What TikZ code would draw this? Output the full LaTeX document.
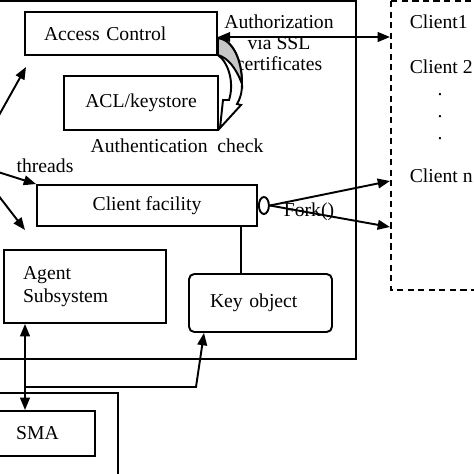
\documentclass[tikz,border=0pt]{standalone}
\usepackage{fontspec}
\setmainfont{Liberation Serif}
\usetikzlibrary{arrows.meta,shapes.geometric}

\begin{document}
\begin{tikzpicture}[
    x=0.02cm, y=-0.02cm,
    line width=1.1pt,
    font=\fontsize{11.2}{12}\selectfont,
    >={Triangle[length=7pt,width=5.5pt]},
    box/.style={draw, rectangle, inner sep=0pt, align=center},
  ]
  \useasboundingbox (0,0) rectangle (474,474);

  \draw (-10,1) rectangle (356,359);
  \draw (-10,393) rectangle (118,490);
  \draw [dash pattern=on 3.5pt off 2.5pt] (391,1) rectangle (490,290);

  \node [box, minimum width=3.84cm, minimum height=0.86cm,
    text width=3.08cm, align=left] (access control) at (121,33.5) {Access Control};
  \node [box, minimum width=3.08cm, minimum height=1.08cm]
    (acl) at (141,103) {ACL/keystore};
  \node [box, minimum width=4.4cm, minimum height=0.82cm]
    (client facility) at (147,205.5) {Client facility};
  \node [box, minimum width=3.24cm, minimum height=1.46cm,
    text width=2.48cm, align=left] (agent) at (85,286.5) {Agent\\[1pt]Subsystem};
  \node [box, rounded corners=3pt, minimum width=2.86cm, minimum height=1.16cm,
    text width=2.02cm, align=left] (key object) at (260.5,303) {Key object};
  \node [box, minimum width=2.3cm, minimum height=0.9cm]
    (sma) at (37.5,433.5) {SMA};
  \node [draw, ellipse, inner sep=0pt, minimum width=0.2cm, minimum height=0.34cm,
    anchor=west] (fork) at (client facility.east) {};

  \node (auth label) [align=center] at (279,43) {Authorization\\via SSL\\certificates};
  \node (check label) at (177,146) {Authentication\ \ check};
  \node (threads label) at (45,166) {threads};
  \node (fork label) at (309,212) {Fork()};

  \node (client 1) [anchor=west] at (403,22) {Client1};
  \node (client 2) [anchor=west] at (403,67) {Client 2};
  \node (dot 1) [anchor=base] at (440,95) {.};
  \node (dot 2) [anchor=base] at (440,117) {.};
  \node (dot 3) [anchor=base] at (440,139) {.};
  \node (client n) [anchor=west] at (403,176) {Client n};

  \coordinate (client in) at (390,37);
  \coordinate (fork top) at (390,181);
  \coordinate (fork bottom) at (390,227);
  \coordinate (link) at (241,0);
  \coordinate (bus left) at (25,387);
  \coordinate (bus right) at (196,387);
  \coordinate (key foot) at (204,0);
  \coordinate (in upper) at (-2,117);
  \coordinate (in upper tip) at (26,67);
  \coordinate (in middle) at (-2,172);
  \coordinate (in lower) at (-2,195);
  \coordinate (in lower tip) at (25,230);

  \draw [<->]
    (access control.east |- client in)
    -- (client in)
  ;

  \draw [fill=white]
    (218,38)
    .. controls (233,40) and (242,60) .. (242,84)
    .. controls (242,93) and (240,99) .. (237,104)
    -- (241,105)
    -- (220,128)
    -- (223,100)
    -- (229,100)
    .. controls (234,85) and (230,64) .. (218,55)
    -- cycle
  ;
  \draw [fill=gray!45]
    (218,38)
    .. controls (233,40) and (242,60) .. (242,84)
    .. controls (236,68) and (228,58) .. (218,55)
    -- cycle
  ;

  \draw [->]
    (fork.east)
    -- (fork top)
  ;
  \draw [->]
    (fork.east)
    -- (fork bottom)
  ;

  \draw
    (client facility.south -| link)
    -- (key object.north -| link)
  ;

  \draw [<->]
    (sma.north -| bus left)
    -- (agent.south -| bus left)
  ;
  \draw [->]
    (bus left)
    -- (bus right)
    -- (key object.south -| key foot)
  ;

  \draw [->]
    (in upper)
    -- (in upper tip)
  ;
  \draw [->]
    (in middle)
    -- (client facility.north west)
  ;
  \draw [->]
    (in lower)
    -- (in lower tip)
  ;
\end{tikzpicture}
\end{document}
